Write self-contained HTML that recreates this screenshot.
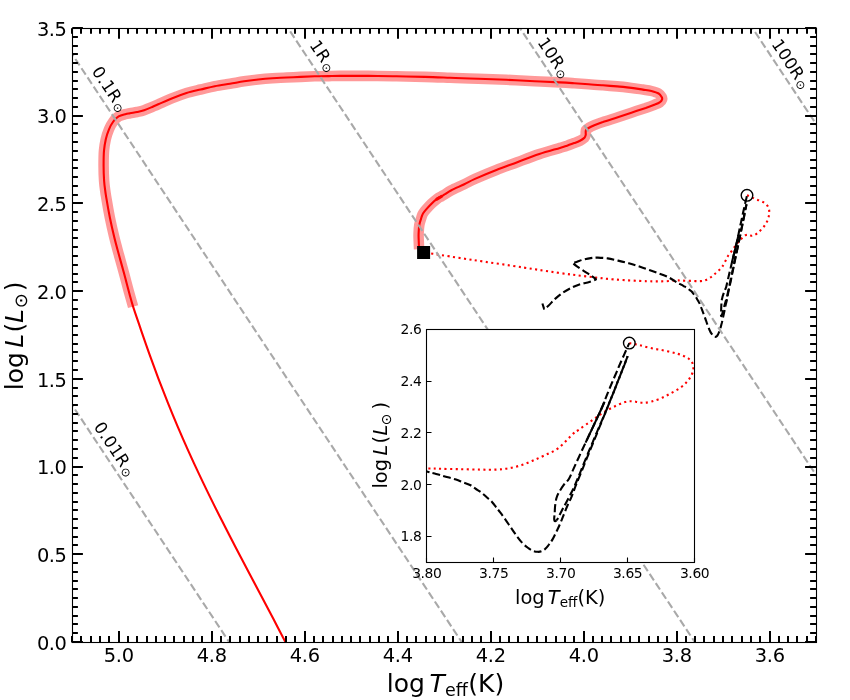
<!DOCTYPE html>
<html><head><meta charset="utf-8"><title>HR diagram</title>
<style>
html,body{margin:0;padding:0;background:#fff;}
body{width:850px;height:700px;overflow:hidden;}
svg{display:block;font-family:"DejaVu Sans","Liberation Sans",sans-serif;fill:#000;}
.it{font-style:italic;}
</style></head><body>
<svg width="850" height="700" viewBox="0 0 850 700">
<defs>
<clipPath id="cm"><rect x="72.3" y="28.005" width="743.9" height="613.9"/></clipPath>
<clipPath id="ci"><rect x="426.5" y="329.5" width="268.0" height="233.0"/></clipPath>
</defs>
<rect width="850" height="700" fill="#fff"/>
<g clip-path="url(#cm)" fill="none">
<path d="M419.1,249.2C419.0,247.7 418.8,242.5 418.7,240.0C418.6,237.5 418.5,236.5 418.6,234.0C418.7,231.5 418.8,227.8 419.3,225.0C419.8,222.2 420.9,219.2 421.5,217.3C422.1,215.4 422.2,214.8 423.0,213.5C423.8,212.2 424.6,211.2 426.0,209.6C427.4,208.0 429.6,205.5 431.5,203.7C433.4,201.9 435.7,199.9 437.3,198.7C438.9,197.5 439.9,197.2 441.2,196.5C442.5,195.8 443.3,195.2 445.0,194.2C446.7,193.1 448.2,191.9 451.4,190.2C454.6,188.5 460.4,186.1 464.3,184.2C468.2,182.3 469.6,181.3 475.0,178.9C480.4,176.5 489.2,172.8 496.4,170.0C503.5,167.2 510.8,164.7 517.9,162.0C525.0,159.3 532.3,156.4 539.3,154.1C546.3,151.8 555.4,149.3 560.0,147.9C564.6,146.5 564.7,146.5 567.1,145.7C569.5,144.9 572.1,143.9 574.3,143.1C576.4,142.3 578.3,141.6 580.0,140.7C581.7,139.8 583.3,138.8 584.3,137.9C585.2,137.0 585.5,135.8 585.7,135.0C585.9,134.2 585.7,133.7 585.7,132.9C585.8,132.1 585.5,130.8 586.0,130.0C586.5,129.2 587.2,128.8 588.6,128.0C590.0,127.1 591.9,126.2 594.3,125.2C596.7,124.2 599.1,123.2 602.9,122.0C606.7,120.7 612.4,119.0 617.1,117.5C621.9,115.9 626.6,114.2 631.4,112.7C636.2,111.1 641.9,109.2 645.7,108.0C649.5,106.7 651.9,105.8 654.3,104.8C656.7,103.9 658.7,103.2 660.0,102.2C661.3,101.3 661.8,100.2 662.1,99.3C662.4,98.4 662.3,98.1 661.7,97.1C661.1,96.1 660.3,94.5 658.6,93.5C656.9,92.5 654.0,91.7 651.4,91.0C648.8,90.3 646.2,90.1 642.9,89.6C639.6,89.1 635.7,88.4 631.4,87.9C627.1,87.4 621.9,86.8 617.1,86.4C612.4,86.0 607.6,85.7 602.9,85.3C598.1,84.9 593.4,84.5 588.6,84.2C583.8,83.9 579.1,83.5 574.3,83.2C569.5,82.9 566.6,82.7 560.0,82.4C553.4,82.1 543.6,81.7 534.7,81.2C525.8,80.8 515.9,80.3 506.5,79.8C497.1,79.4 487.6,79.0 478.2,78.7C468.8,78.3 458.9,77.9 450.0,77.7C441.1,77.4 433.6,77.1 424.7,76.9C415.8,76.7 405.9,76.4 396.5,76.2C387.1,76.0 377.6,76.0 368.2,75.9C358.8,75.9 346.6,75.9 340.0,75.9C333.4,75.9 333.0,76.0 328.8,76.1C324.6,76.2 319.4,76.2 314.7,76.3C310.0,76.5 305.3,76.7 300.6,76.9C295.9,77.1 291.2,77.3 286.5,77.5C281.8,77.7 277.1,78.0 272.4,78.3C267.7,78.6 262.9,79.0 258.2,79.5C253.5,80.0 248.8,80.6 244.1,81.3C239.4,82.0 234.9,82.9 230.0,83.7C225.1,84.5 219.6,85.2 214.7,86.2C209.8,87.2 205.3,88.4 200.6,89.5C195.9,90.6 191.2,91.5 186.5,93.0C181.8,94.5 177.1,96.3 172.4,98.2C167.7,100.1 161.7,102.8 158.2,104.3C154.7,105.8 153.5,106.4 151.2,107.4C148.8,108.4 146.4,109.4 144.1,110.2C141.8,111.0 139.4,111.5 137.1,112.0C134.8,112.5 132.0,112.8 130.0,113.2C128.0,113.6 127.2,113.7 125.3,114.2C123.4,114.7 120.6,115.2 118.6,116.4C116.6,117.6 114.9,119.3 113.3,121.5C111.7,123.7 110.2,126.4 109.0,129.3C107.8,132.2 106.6,135.6 105.8,139.2C105.0,142.8 104.4,146.2 104.0,150.6C103.6,155.0 103.6,160.7 103.6,165.7C103.6,170.7 103.8,176.4 104.1,180.8C104.4,185.2 105.0,189.0 105.4,192.0C105.8,195.0 105.8,194.6 106.5,198.9C107.2,203.2 108.6,211.4 109.9,217.7C111.2,224.0 112.6,230.3 114.1,236.6C115.6,242.9 117.4,249.2 119.1,255.5C120.8,261.8 122.6,268.0 124.3,274.3C126.0,280.6 127.8,287.8 129.3,293.2C130.8,298.6 132.5,304.4 133.1,306.6" stroke="#ff0000" stroke-opacity="0.4" stroke-width="10.6" stroke-linejoin="round"/>
<path d="M419.1,249.2C419.0,247.7 418.8,242.5 418.7,240.0C418.6,237.5 418.5,236.5 418.6,234.0C418.7,231.5 418.8,227.8 419.3,225.0C419.8,222.2 420.9,219.2 421.5,217.3C422.1,215.4 422.2,214.8 423.0,213.5C423.8,212.2 424.6,211.2 426.0,209.6C427.4,208.0 429.6,205.5 431.5,203.7C433.4,201.9 435.7,199.9 437.3,198.7C438.9,197.5 439.9,197.2 441.2,196.5C442.5,195.8 443.3,195.2 445.0,194.2C446.7,193.1 448.2,191.9 451.4,190.2C454.6,188.5 460.4,186.1 464.3,184.2C468.2,182.3 469.6,181.3 475.0,178.9C480.4,176.5 489.2,172.8 496.4,170.0C503.5,167.2 510.8,164.7 517.9,162.0C525.0,159.3 532.3,156.4 539.3,154.1C546.3,151.8 555.4,149.3 560.0,147.9C564.6,146.5 564.7,146.5 567.1,145.7C569.5,144.9 572.1,143.9 574.3,143.1C576.4,142.3 578.3,141.6 580.0,140.7C581.7,139.8 583.3,138.8 584.3,137.9C585.2,137.0 585.5,135.8 585.7,135.0C585.9,134.2 585.7,133.7 585.7,132.9C585.8,132.1 585.5,130.8 586.0,130.0C586.5,129.2 587.2,128.8 588.6,128.0C590.0,127.1 591.9,126.2 594.3,125.2C596.7,124.2 599.1,123.2 602.9,122.0C606.7,120.7 612.4,119.0 617.1,117.5C621.9,115.9 626.6,114.2 631.4,112.7C636.2,111.1 641.9,109.2 645.7,108.0C649.5,106.7 651.9,105.8 654.3,104.8C656.7,103.9 658.7,103.2 660.0,102.2C661.3,101.3 661.8,100.2 662.1,99.3C662.4,98.4 662.3,98.1 661.7,97.1C661.1,96.1 660.3,94.5 658.6,93.5C656.9,92.5 654.0,91.7 651.4,91.0C648.8,90.3 646.2,90.1 642.9,89.6C639.6,89.1 635.7,88.4 631.4,87.9C627.1,87.4 621.9,86.8 617.1,86.4C612.4,86.0 607.6,85.7 602.9,85.3C598.1,84.9 593.4,84.5 588.6,84.2C583.8,83.9 579.1,83.5 574.3,83.2C569.5,82.9 566.6,82.7 560.0,82.4C553.4,82.1 543.6,81.7 534.7,81.2C525.8,80.8 515.9,80.3 506.5,79.8C497.1,79.4 487.6,79.0 478.2,78.7C468.8,78.3 458.9,77.9 450.0,77.7C441.1,77.4 433.6,77.1 424.7,76.9C415.8,76.7 405.9,76.4 396.5,76.2C387.1,76.0 377.6,76.0 368.2,75.9C358.8,75.9 346.6,75.9 340.0,75.9C333.4,75.9 333.0,76.0 328.8,76.1C324.6,76.2 319.4,76.2 314.7,76.3C310.0,76.5 305.3,76.7 300.6,76.9C295.9,77.1 291.2,77.3 286.5,77.5C281.8,77.7 277.1,78.0 272.4,78.3C267.7,78.6 262.9,79.0 258.2,79.5C253.5,80.0 248.8,80.6 244.1,81.3C239.4,82.0 234.9,82.9 230.0,83.7C225.1,84.5 219.6,85.2 214.7,86.2C209.8,87.2 205.3,88.4 200.6,89.5C195.9,90.6 191.2,91.5 186.5,93.0C181.8,94.5 177.1,96.3 172.4,98.2C167.7,100.1 161.7,102.8 158.2,104.3C154.7,105.8 153.5,106.4 151.2,107.4C148.8,108.4 146.4,109.4 144.1,110.2C141.8,111.0 139.4,111.5 137.1,112.0C134.8,112.5 132.0,112.8 130.0,113.2C128.0,113.6 127.2,113.7 125.3,114.2C123.4,114.7 120.6,115.2 118.6,116.4C116.6,117.6 114.9,119.3 113.3,121.5C111.7,123.7 110.2,126.4 109.0,129.3C107.8,132.2 106.6,135.6 105.8,139.2C105.0,142.8 104.4,146.2 104.0,150.6C103.6,155.0 103.6,160.7 103.6,165.7C103.6,170.7 103.8,176.4 104.1,180.8C104.4,185.2 105.0,189.0 105.4,192.0C105.8,195.0 105.8,194.6 106.5,198.9C107.2,203.2 108.6,211.4 109.9,217.7C111.2,224.0 112.6,230.3 114.1,236.6C115.6,242.9 117.4,249.2 119.1,255.5C120.8,261.8 122.6,268.0 124.3,274.3C126.0,280.6 127.8,287.8 129.3,293.2C130.8,298.6 131.1,300.4 133.1,306.6C135.1,312.8 138.5,322.6 141.2,330.6C144.0,338.6 146.7,346.6 149.6,354.6C152.5,362.6 155.4,370.6 158.4,378.6C161.5,386.6 164.6,394.6 167.8,402.6C171.0,410.6 174.3,418.6 177.7,426.6C181.1,434.6 184.6,442.6 188.2,450.6C191.8,458.6 195.5,466.6 199.3,474.6C203.1,482.6 206.9,490.6 210.9,498.6C214.8,506.6 218.8,514.6 222.9,522.6C226.9,530.6 231.1,538.6 235.2,546.6C239.4,554.6 243.6,562.6 247.8,570.6C252.0,578.6 256.3,586.6 260.5,594.6C264.8,602.6 269.0,610.6 273.2,618.6C277.4,626.6 283.6,638.6 285.7,642.6" stroke="#ff0000" stroke-width="2.1" stroke-linejoin="round"/>
<path d="M436.9,199.1L441.4,196.5" stroke="#ff0000" stroke-width="3.1" stroke-linecap="round"/>
<path d="M747.0,195.3C747.6,195.5 749.2,196.1 750.5,196.6C751.8,197.2 753.4,198.2 754.8,198.8C756.3,199.4 757.7,199.8 759.2,200.4C760.6,201.0 762.3,201.7 763.6,202.4C764.8,203.2 766.0,203.9 766.8,204.9C767.7,205.8 768.3,206.8 768.7,208.0C769.1,209.3 769.3,210.9 769.3,212.3C769.3,213.7 769.1,215.1 768.7,216.6C768.4,218.1 767.8,219.9 767.1,221.4C766.4,222.9 765.6,224.3 764.6,225.7C763.7,227.0 762.5,228.2 761.4,229.4C760.3,230.6 759.2,231.7 758.1,232.6C757.0,233.5 755.8,234.4 754.8,234.9C753.8,235.4 752.9,235.7 752.1,235.8C751.3,235.8 750.6,235.4 749.9,235.2C749.2,235.0 748.5,234.7 747.7,234.7C747.0,234.7 746.4,234.8 745.5,235.2C744.7,235.7 743.7,236.6 742.8,237.4C741.9,238.2 741.0,239.1 740.1,240.0C739.2,241.0 738.3,242.1 737.3,243.2C736.4,244.4 735.5,245.7 734.6,247.0C733.7,248.2 732.8,249.4 731.9,250.7C731.0,251.9 729.9,253.4 729.2,254.4C728.5,255.4 728.7,254.7 727.5,256.8C726.4,258.8 724.0,264.2 722.3,266.7C720.6,269.2 718.9,270.2 717.4,271.6C715.9,273.0 714.6,274.1 713.2,275.2C711.9,276.4 710.5,277.5 709.1,278.4C707.7,279.2 706.3,279.8 704.9,280.3C703.5,280.7 702.4,280.9 700.7,281.1C699.1,281.2 697.3,281.1 695.2,281.1C693.1,281.0 690.6,280.9 688.2,280.8C685.9,280.7 683.2,280.6 681.3,280.5C679.4,280.5 679.7,280.3 676.8,280.4C673.9,280.5 668.9,281.2 664.0,281.3C659.1,281.4 655.4,281.5 647.2,281.2C639.0,280.9 624.8,280.3 614.7,279.5C604.6,278.7 595.9,277.5 586.5,276.4C577.1,275.3 568.7,274.3 558.2,272.8C547.7,271.3 537.9,269.7 523.5,267.5C509.1,265.3 486.9,262.1 471.8,259.8C456.7,257.5 439.8,254.9 432.9,253.8C426.0,252.7 430.9,253.4 430.5,253.3" stroke="#ff0000" stroke-width="2.1" stroke-dasharray="2.08 3.44"/>
<path d="M542.4,303.5L544.1,308.9L544.1,308.9C544.8,308.4 546.5,307.4 548.4,305.7C550.3,304.0 553.0,300.7 555.4,298.6C557.8,296.5 559.9,294.7 562.5,292.9C565.1,291.1 568.1,289.4 570.9,288.0C573.7,286.6 576.3,285.5 579.4,284.5C582.5,283.5 586.5,282.7 589.3,281.9C592.0,281.1 594.8,280.0 595.9,279.6L595.9,279.0C595.0,278.4 592.8,276.7 590.7,275.3C588.7,273.9 586.0,272.3 583.6,270.8C581.2,269.3 578.5,267.4 576.6,266.1C574.7,264.8 573.1,263.4 572.4,262.9L572.4,262.9C573.1,262.7 574.7,262.5 576.6,261.9C578.5,261.3 581.2,260.1 583.6,259.5C586.0,258.9 588.3,258.4 590.7,258.1C593.1,257.8 595.0,257.6 597.8,257.6C600.6,257.7 604.3,257.9 607.6,258.4C610.9,258.9 614.0,259.7 617.5,260.5C621.0,261.3 625.0,262.2 628.8,263.3C632.6,264.4 635.9,265.4 640.1,266.8C644.4,268.2 649.6,270.1 654.3,271.8C658.9,273.5 664.3,275.2 668.0,277.0C671.7,278.8 674.9,281.3 676.8,282.4C678.6,283.5 678.3,283.2 679.0,283.6C679.8,284.0 680.5,284.3 681.3,284.7C682.1,285.2 683.2,285.8 684.1,286.3C685.0,286.8 686.0,287.3 686.9,287.9C687.7,288.4 688.5,289.1 689.3,289.7C690.1,290.3 691.0,290.8 691.7,291.5C692.5,292.3 693.1,293.3 693.8,294.2C694.5,295.1 695.2,296.0 695.9,296.9C696.5,297.9 697.0,299.0 697.6,300.0C698.2,301.0 698.8,302.0 699.4,303.0C699.9,304.1 700.3,305.3 700.7,306.5C701.2,307.7 701.6,308.5 702.1,310.0C702.7,311.4 703.4,313.3 704.1,315.1C704.7,316.9 705.4,319.0 706.1,320.8C706.7,322.7 707.3,324.5 708.0,326.2C708.7,327.9 709.3,329.7 710.0,331.0C710.6,332.4 711.3,333.4 711.9,334.2C712.5,335.1 713.0,335.7 713.6,336.1C714.1,336.6 714.7,336.8 715.2,336.8C715.7,336.9 716.1,336.8 716.5,336.5C717.0,336.1 717.4,335.6 717.8,334.8C718.3,334.1 718.7,333.1 719.1,332.0C719.5,330.9 720.0,329.7 720.4,328.2C720.9,326.7 721.3,324.8 721.8,323.0C722.2,321.3 722.6,319.6 723.0,317.6C723.5,315.7 723.9,313.4 724.4,311.2C724.8,309.1 725.3,306.7 725.7,304.9C726.1,303.0 726.5,301.7 726.9,300.1C727.2,298.6 727.4,297.0 727.7,295.5C728.0,294.0 728.3,292.3 728.6,290.9C728.9,289.5 729.0,289.1 729.4,287.2C729.8,285.4 730.5,282.3 731.0,279.8C731.5,277.3 732.0,274.8 732.5,272.3C733.0,269.8 733.6,267.3 734.1,264.8C734.6,262.3 735.1,259.8 735.6,257.3C736.1,254.8 736.7,252.4 737.2,249.9C737.7,247.4 738.2,244.9 738.7,242.4C739.2,239.9 739.8,237.4 740.3,234.9C740.8,232.4 741.4,229.6 741.8,227.4C742.3,225.2 742.6,223.6 743.0,221.6C743.4,219.7 743.8,217.7 744.2,215.8C744.5,213.9 744.9,211.9 745.3,210.0C745.7,208.0 746.3,205.1 746.5,204.2" stroke="#000" stroke-width="2.1" stroke-dasharray="7.7 3.33" stroke-dashoffset="2" stroke-linejoin="round"/>
<path d="M746.5,204.2C746.3,205.1 745.7,208.0 745.3,210.0C744.9,211.9 744.5,213.9 744.2,215.8C743.8,217.7 743.4,219.7 743.0,221.6C742.6,223.6 742.3,225.2 741.8,227.4C741.4,229.6 740.8,232.4 740.3,234.9C739.8,237.4 739.3,239.9 738.7,242.4C738.2,244.8 737.6,247.3 737.1,249.8C736.5,252.3 735.9,255.2 735.4,257.3C735.0,259.4 734.7,260.7 734.3,262.4C734.0,264.0 733.6,265.7 733.3,267.4C732.9,269.1 732.6,270.4 732.2,272.5C731.7,274.6 731.1,277.5 730.6,280.0C730.1,282.5 729.6,285.0 729.0,287.4C728.5,289.9 728.1,292.2 727.5,294.4C727.0,296.7 726.4,298.8 725.8,300.9C725.2,303.1 724.5,305.4 724.0,307.5C723.4,309.6 722.8,312.0 722.4,313.3C722.1,314.7 722.0,315.0 721.8,315.4C721.6,315.9 721.4,316.2 721.3,316.1C721.2,316.1 721.0,315.7 721.0,315.2C720.9,314.8 721.0,313.9 721.0,313.2C721.0,312.5 721.1,312.2 721.1,311.0C721.2,309.7 721.2,307.5 721.3,305.8C721.4,304.0 721.5,302.1 721.7,300.5C721.9,299.0 722.2,298.1 722.6,296.6C723.0,295.1 723.6,293.3 724.2,291.8C724.7,290.2 725.5,289.1 726.1,287.2C726.7,285.4 727.1,282.8 727.7,280.6C728.2,278.3 728.7,276.1 729.2,273.9C729.7,271.7 730.2,269.5 730.8,267.2C731.3,265.0 731.9,262.6 732.5,260.3C733.0,257.9 733.6,255.5 734.2,253.3C734.7,251.0 735.2,248.9 735.7,246.7C736.2,244.5 736.8,242.5 737.3,240.2C737.8,237.9 738.3,235.3 738.8,232.8C739.3,230.3 739.9,227.5 740.3,225.4C740.8,223.3 741.1,221.9 741.5,220.1C741.9,218.3 742.3,216.5 742.6,214.8C743.0,213.0 743.3,211.5 743.8,209.5C744.3,207.4 744.9,204.7 745.4,202.4C746.0,200.0 746.8,196.5 747.0,195.3" stroke="#000" stroke-width="2.1" stroke-dasharray="7.7 3.33" stroke-dashoffset="1.65" stroke-linejoin="round"/>
<path d="M731.9,262.8C732.2,261.2 733.2,257.0 734.2,253.3C735.1,249.5 736.6,243.2 737.3,240.2C738.0,237.2 738.3,235.9 738.5,235.1" stroke="#000" stroke-width="2.1"/>
<g stroke="#a9a9a9" stroke-width="2.1" stroke-dasharray="7.7 3.33"><path d="M71.6,404.3L838.7,1561.9" stroke-dashoffset="4.8"/><path d="M71.7,53.5L838.8,1211.1" stroke-dashoffset="4.4"/><path d="M287.9,28.0L839.4,860.3" stroke-dashoffset="6.9"/><path d="M519.9,28.0L838.9,509.5" stroke-dashoffset="4.9"/><path d="M752.4,28.0L839.0,158.7" stroke-dashoffset="6.2"/></g>
<rect x="417.1" y="246.0" width="13" height="13" fill="#000"/>
<circle cx="747.0" cy="195.3" r="5.8" stroke="#000" stroke-width="1.4"/>
</g>
<g font-size="16.67" letter-spacing="0.3">
<text transform="translate(91.3,71.3) rotate(56.4)">0.1R<tspan font-size="11.9" dy="2.1" dx="0.9">⊙</tspan></text>
<text transform="translate(93.3,426.7) rotate(56.4)">0.01R<tspan font-size="11.9" dy="2.1" dx="0.9">⊙</tspan></text>
<text transform="translate(309.1,45) rotate(56.4)">1R<tspan font-size="11.9" dy="2.1" dx="0.9">⊙</tspan></text>
<text transform="translate(537.1,42.3) rotate(56.4)">10R<tspan font-size="11.9" dy="2.1" dx="0.9">⊙</tspan></text>
<text transform="translate(771,44) rotate(56.4)">100R<tspan font-size="11.9" dy="2.1" dx="0.9">⊙</tspan></text>
</g>
<path d="M119,642.5V631.0 M119,28.2V38.7M212,642.5V631.0 M212,28.2V38.7M305,642.5V631.0 M305,28.2V38.7M398,642.5V631.0 M398,28.2V38.7M491,642.5V631.0 M491,28.2V38.7M584,642.5V631.0 M584,28.2V38.7M677,642.5V631.0 M677,28.2V38.7M770,642.5V631.0 M770,28.2V38.7M72.3,642H82.9 M816.5,642H805.1M72.3,554H82.9 M816.5,554H805.1M72.3,467H82.9 M816.5,467H805.1M72.3,379H82.9 M816.5,379H805.1M72.3,291H82.9 M816.5,291H805.1M72.3,203H82.9 M816.5,203H805.1M72.3,116H82.9 M816.5,116H805.1M72.3,28H82.9 M816.5,28H805.1" stroke="#000" stroke-width="2" fill="none"/>
<path d="M72,642.5V636.1 M72,28.2V33.8M81,642.5V636.1 M81,28.2V33.8M91,642.5V636.1 M91,28.2V33.8M100,642.5V636.1 M100,28.2V33.8M109,642.5V636.1 M109,28.2V33.8M128,642.5V636.1 M128,28.2V33.8M137,642.5V636.1 M137,28.2V33.8M147,642.5V636.1 M147,28.2V33.8M156,642.5V636.1 M156,28.2V33.8M165,642.5V636.1 M165,28.2V33.8M174,642.5V636.1 M174,28.2V33.8M184,642.5V636.1 M184,28.2V33.8M193,642.5V636.1 M193,28.2V33.8M202,642.5V636.1 M202,28.2V33.8M221,642.5V636.1 M221,28.2V33.8M230,642.5V636.1 M230,28.2V33.8M240,642.5V636.1 M240,28.2V33.8M249,642.5V636.1 M249,28.2V33.8M258,642.5V636.1 M258,28.2V33.8M267,642.5V636.1 M267,28.2V33.8M277,642.5V636.1 M277,28.2V33.8M286,642.5V636.1 M286,28.2V33.8M295,642.5V636.1 M295,28.2V33.8M314,642.5V636.1 M314,28.2V33.8M323,642.5V636.1 M323,28.2V33.8M333,642.5V636.1 M333,28.2V33.8M342,642.5V636.1 M342,28.2V33.8M351,642.5V636.1 M351,28.2V33.8M360,642.5V636.1 M360,28.2V33.8M370,642.5V636.1 M370,28.2V33.8M379,642.5V636.1 M379,28.2V33.8M388,642.5V636.1 M388,28.2V33.8M407,642.5V636.1 M407,28.2V33.8M416,642.5V636.1 M416,28.2V33.8M426,642.5V636.1 M426,28.2V33.8M435,642.5V636.1 M435,28.2V33.8M444,642.5V636.1 M444,28.2V33.8M453,642.5V636.1 M453,28.2V33.8M463,642.5V636.1 M463,28.2V33.8M472,642.5V636.1 M472,28.2V33.8M481,642.5V636.1 M481,28.2V33.8M500,642.5V636.1 M500,28.2V33.8M509,642.5V636.1 M509,28.2V33.8M518,642.5V636.1 M518,28.2V33.8M528,642.5V636.1 M528,28.2V33.8M537,642.5V636.1 M537,28.2V33.8M546,642.5V636.1 M546,28.2V33.8M556,642.5V636.1 M556,28.2V33.8M565,642.5V636.1 M565,28.2V33.8M574,642.5V636.1 M574,28.2V33.8M593,642.5V636.1 M593,28.2V33.8M602,642.5V636.1 M602,28.2V33.8M611,642.5V636.1 M611,28.2V33.8M621,642.5V636.1 M621,28.2V33.8M630,642.5V636.1 M630,28.2V33.8M639,642.5V636.1 M639,28.2V33.8M649,642.5V636.1 M649,28.2V33.8M658,642.5V636.1 M658,28.2V33.8M667,642.5V636.1 M667,28.2V33.8M686,642.5V636.1 M686,28.2V33.8M695,642.5V636.1 M695,28.2V33.8M704,642.5V636.1 M704,28.2V33.8M714,642.5V636.1 M714,28.2V33.8M723,642.5V636.1 M723,28.2V33.8M732,642.5V636.1 M732,28.2V33.8M742,642.5V636.1 M742,28.2V33.8M751,642.5V636.1 M751,28.2V33.8M760,642.5V636.1 M760,28.2V33.8M779,642.5V636.1 M779,28.2V33.8M788,642.5V636.1 M788,28.2V33.8M797,642.5V636.1 M797,28.2V33.8M807,642.5V636.1 M807,28.2V33.8M816,642.5V636.1 M816,28.2V33.8M72.3,633H77.9 M816.5,633H810.1M72.3,624H77.9 M816.5,624H810.1M72.3,616H77.9 M816.5,616H810.1M72.3,607H77.9 M816.5,607H810.1M72.3,598H77.9 M816.5,598H810.1M72.3,589H77.9 M816.5,589H810.1M72.3,581H77.9 M816.5,581H810.1M72.3,572H77.9 M816.5,572H810.1M72.3,563H77.9 M816.5,563H810.1M72.3,545H77.9 M816.5,545H810.1M72.3,537H77.9 M816.5,537H810.1M72.3,528H77.9 M816.5,528H810.1M72.3,519H77.9 M816.5,519H810.1M72.3,510H77.9 M816.5,510H810.1M72.3,502H77.9 M816.5,502H810.1M72.3,493H77.9 M816.5,493H810.1M72.3,484H77.9 M816.5,484H810.1M72.3,475H77.9 M816.5,475H810.1M72.3,458H77.9 M816.5,458H810.1M72.3,449H77.9 M816.5,449H810.1M72.3,440H77.9 M816.5,440H810.1M72.3,431H77.9 M816.5,431H810.1M72.3,423H77.9 M816.5,423H810.1M72.3,414H77.9 M816.5,414H810.1M72.3,405H77.9 M816.5,405H810.1M72.3,396H77.9 M816.5,396H810.1M72.3,388H77.9 M816.5,388H810.1M72.3,370H77.9 M816.5,370H810.1M72.3,361H77.9 M816.5,361H810.1M72.3,352H77.9 M816.5,352H810.1M72.3,344H77.9 M816.5,344H810.1M72.3,335H77.9 M816.5,335H810.1M72.3,326H77.9 M816.5,326H810.1M72.3,317H77.9 M816.5,317H810.1M72.3,309H77.9 M816.5,309H810.1M72.3,300H77.9 M816.5,300H810.1M72.3,282H77.9 M816.5,282H810.1M72.3,274H77.9 M816.5,274H810.1M72.3,265H77.9 M816.5,265H810.1M72.3,256H77.9 M816.5,256H810.1M72.3,247H77.9 M816.5,247H810.1M72.3,238H77.9 M816.5,238H810.1M72.3,230H77.9 M816.5,230H810.1M72.3,221H77.9 M816.5,221H810.1M72.3,212H77.9 M816.5,212H810.1M72.3,195H77.9 M816.5,195H810.1M72.3,186H77.9 M816.5,186H810.1M72.3,177H77.9 M816.5,177H810.1M72.3,168H77.9 M816.5,168H810.1M72.3,160H77.9 M816.5,160H810.1M72.3,151H77.9 M816.5,151H810.1M72.3,142H77.9 M816.5,142H810.1M72.3,133H77.9 M816.5,133H810.1M72.3,124H77.9 M816.5,124H810.1M72.3,107H77.9 M816.5,107H810.1M72.3,98H77.9 M816.5,98H810.1M72.3,89H77.9 M816.5,89H810.1M72.3,81H77.9 M816.5,81H810.1M72.3,72H77.9 M816.5,72H810.1M72.3,63H77.9 M816.5,63H810.1M72.3,54H77.9 M816.5,54H810.1M72.3,46H77.9 M816.5,46H810.1M72.3,37H77.9 M816.5,37H810.1" stroke="#000" stroke-width="2" fill="none"/>
<rect x="72.5" y="28.5" width="744.0" height="614.0" fill="none" stroke="#000" stroke-width="1.1"/>
<g font-size="19.44" text-anchor="middle" letter-spacing="-0.3"><text x="118.8" y="662.2">5.0</text><text x="211.8" y="662.2">4.8</text><text x="304.8" y="662.2">4.6</text><text x="397.8" y="662.2">4.4</text><text x="490.7" y="662.2">4.2</text><text x="583.7" y="662.2">4.0</text><text x="676.7" y="662.2">3.8</text><text x="769.7" y="662.2">3.6</text></g>
<g font-size="19.44" text-anchor="end" letter-spacing="-0.5"><text x="66.3" y="649.6">0.0</text><text x="66.3" y="561.9">0.5</text><text x="66.3" y="474.2">1.0</text><text x="66.3" y="386.5">1.5</text><text x="66.3" y="298.8">2.0</text><text x="66.3" y="211.1">2.5</text><text x="66.3" y="123.4">3.0</text><text x="66.3" y="35.7">3.5</text></g>
<text font-size="25" x="386.8" y="692">log<tspan dx="4.5" class="it">T</tspan><tspan font-size="17.5" dy="4.2" dx="0.4">eff</tspan><tspan dy="-4.2" dx="0.4">(K)</tspan></text>
<text font-size="25" transform="translate(22.8,390.3) rotate(-90)">log<tspan dx="4.5" class="it">L</tspan><tspan dx="1.3">(</tspan><tspan dx="-0.3" class="it">L</tspan><tspan font-size="18" dy="4.6" dx="0.9">⊙</tspan><tspan dy="-4.6" dx="1.9">)</tspan></text>
<rect x="426.5" y="329.5" width="268.0" height="233.0" fill="#fff"/>
<g clip-path="url(#ci)" fill="none">
<path d="M629.3,343.1C630.9,343.4 635.5,344.2 639.2,345.1C642.9,346.0 647.5,347.4 651.7,348.3C655.9,349.2 660.1,349.7 664.3,350.6C668.5,351.5 673.2,352.5 676.9,353.6C680.6,354.7 683.8,355.8 686.3,357.2C688.8,358.6 690.6,360.1 691.8,361.9C693.0,363.7 693.4,366.1 693.4,368.2C693.4,370.3 692.8,372.3 691.8,374.5C690.8,376.7 689.1,379.4 687.1,381.6C685.1,383.8 682.8,385.9 680.0,387.9C677.2,389.9 673.7,391.7 670.6,393.4C667.5,395.1 664.4,396.8 661.2,398.1C658.1,399.5 654.6,400.7 651.7,401.5C648.8,402.3 646.2,402.7 643.9,402.8C641.5,402.9 639.7,402.3 637.6,402.0C635.5,401.7 633.4,401.2 631.3,401.2C629.2,401.2 627.4,401.3 625.0,402.0C622.6,402.7 619.8,404.0 617.2,405.2C614.6,406.4 611.9,407.7 609.3,409.1C606.7,410.5 604.0,412.1 601.4,413.8C598.8,415.5 596.2,417.5 593.6,419.3C591.0,421.1 588.3,423.0 585.7,424.8C583.1,426.6 580.0,428.8 577.9,430.3C575.8,431.8 576.4,430.8 573.1,433.8C569.8,436.8 562.9,444.8 558.0,448.4C553.1,452.0 548.3,453.5 544.0,455.6C539.7,457.7 536.0,459.3 532.0,461.0C528.0,462.7 524.0,464.4 520.0,465.6C516.0,466.8 512.0,467.7 508.0,468.4C504.0,469.1 500.7,469.4 496.0,469.6C491.3,469.8 486.0,469.7 480.0,469.6C474.0,469.5 466.7,469.3 460.0,469.2C453.3,469.1 445.5,468.9 440.0,468.8C434.5,468.7 435.3,468.4 427.0,468.6C418.7,468.8 404.4,469.7 390.2,469.9C376.0,470.1 365.5,470.2 341.8,469.8C318.1,469.4 263.8,467.7 248.2,467.3" stroke="#ff0000" stroke-width="2.1" stroke-dasharray="2.08 3.44"/>
<g stroke="#000" stroke-width="2.1" stroke-dasharray="7.7 3.33" stroke-linejoin="round"><path d="M321.3,448.6C328.2,449.8 348.8,453.4 362.2,455.9C375.6,458.4 390.9,461.0 401.7,463.6C412.5,466.2 421.7,470.0 427.0,471.6C432.3,473.2 431.3,472.7 433.5,473.3C435.7,473.9 437.6,474.3 440.0,475.0C442.4,475.7 445.3,476.5 448.0,477.3C450.7,478.1 453.5,478.8 456.0,479.6C458.5,480.4 460.7,481.4 463.0,482.3C465.3,483.2 467.8,483.9 470.0,485.0C472.2,486.1 474.0,487.7 476.0,489.0C478.0,490.3 480.2,491.6 482.0,493.0C483.8,494.4 485.3,496.0 487.0,497.5C488.7,499.0 490.5,500.4 492.0,502.0C493.5,503.6 494.7,505.4 496.0,507.1C497.3,508.8 498.4,510.1 500.0,512.2C501.6,514.3 503.7,517.1 505.6,519.8C507.5,522.5 509.4,525.5 511.3,528.2C513.2,530.9 515.0,533.7 516.9,536.2C518.8,538.7 520.7,541.3 522.6,543.3C524.5,545.3 526.5,546.8 528.2,548.0C529.9,549.2 531.3,550.2 532.9,550.8C534.5,551.4 536.2,551.7 537.6,551.8C539.0,551.9 540.1,551.8 541.4,551.3C542.7,550.8 544.0,550.0 545.2,548.9C546.5,547.8 547.6,546.3 548.9,544.7C550.1,543.1 551.4,541.3 552.7,539.1C554.0,536.9 555.2,534.1 556.5,531.5C557.8,528.9 559.0,526.4 560.2,523.5C561.5,520.6 562.7,517.2 564.0,514.1C565.3,511.0 566.6,507.4 567.8,504.7C569.0,502.0 570.2,500.0 571.2,497.7C572.2,495.4 572.9,493.2 573.8,490.9C574.6,488.6 575.5,486.1 576.3,484.1C577.1,482.1 577.5,481.4 578.6,478.7C579.7,476.0 581.6,471.4 583.1,467.7C584.5,464.0 586.0,460.3 587.5,456.6C589.0,453.0 590.5,449.3 592.0,445.6C593.5,441.9 595.0,438.3 596.5,434.6C597.9,430.9 599.4,427.2 600.9,423.6C602.4,419.9 603.9,416.2 605.4,412.6C606.9,408.9 608.4,405.2 609.8,401.5C611.3,397.8 613.0,393.8 614.3,390.5C615.6,387.2 616.5,384.8 617.6,381.9C618.8,379.1 619.9,376.2 621.0,373.4C622.1,370.5 623.2,367.6 624.4,364.8C625.5,361.9 627.1,357.6 627.7,356.2" stroke-dashoffset="7.18"/><path d="M627.7,356.2C627.1,357.6 625.5,361.9 624.4,364.8C623.2,367.6 622.1,370.5 621.0,373.4C619.9,376.2 618.8,379.1 617.6,381.9C616.5,384.8 615.6,387.2 614.3,390.5C613.0,393.8 611.3,397.8 609.8,401.5C608.4,405.2 606.9,408.8 605.4,412.5C603.9,416.2 602.2,419.8 600.6,423.5C599.1,427.2 597.2,431.4 595.9,434.5C594.6,437.6 593.8,439.5 592.8,442.0C591.7,444.5 590.7,447.0 589.6,449.5C588.6,452.0 587.8,453.9 586.5,457.0C585.2,460.1 583.5,464.3 582.0,468.0C580.5,471.7 579.0,475.4 577.5,479.0C576.0,482.6 574.7,486.0 573.1,489.3C571.5,492.6 569.8,495.7 568.1,498.9C566.4,502.1 564.5,505.6 562.9,508.6C561.3,511.7 559.5,515.2 558.5,517.2C557.5,519.2 556.9,519.8 556.6,520.3" stroke-dashoffset="0.41"/><path d="M556.6,520.3C556.4,520.5 555.6,521.3 555.2,521.3C554.8,521.2 554.4,520.7 554.3,520.0C554.1,519.3 554.2,518.0 554.3,517.0C554.4,516.0 554.6,515.5 554.7,513.7C554.8,511.9 554.8,508.6 555.1,506.0C555.4,503.4 555.8,500.6 556.4,498.3C557.0,496.1 557.7,494.6 558.9,492.5C560.1,490.4 561.7,487.7 563.4,485.4C565.1,483.1 567.3,481.5 569.0,478.7C570.7,475.9 572.0,472.1 573.5,468.9C575.0,465.6 576.5,462.3 578.0,459.0C579.5,455.8 580.9,452.6 582.5,449.2C584.1,445.8 585.7,442.3 587.4,438.9C589.0,435.5 590.6,431.9 592.2,428.6C593.8,425.3 595.2,422.2 596.7,419.0C598.2,415.7 599.7,412.7 601.2,409.3C602.7,405.9 604.1,402.0 605.6,398.4C607.1,394.8 608.7,390.6 610.0,387.5C611.3,384.4 612.2,382.3 613.3,379.7C614.4,377.1 615.6,374.4 616.7,371.8C617.8,369.2 618.7,367.0 620.0,364.0C621.3,361.0 623.1,357.0 624.6,353.6C626.2,350.1 628.5,344.8 629.3,343.1" stroke-dasharray="7.914 3.422"/></g>
<path d="M585.6,442.6C586.7,440.3 589.6,434.2 592.2,428.6C594.8,423.1 599.1,413.8 601.2,409.3C603.3,404.8 604.0,403.1 604.6,401.8" stroke="#000" stroke-width="2.1"/>
<circle cx="629.3" cy="343.1" r="5.8" stroke="#000" stroke-width="1.4"/>
</g>
<path d="M426.5,562.3v-4.9M493.5,562.3v-4.9M560.5,562.3v-4.9M627.5,562.3v-4.9M694.5,562.3v-4.9M426.6,536.5h4.9M426.6,484.5h4.9M426.6,432.5h4.9M426.6,381.5h4.9M426.6,329.5h4.9" stroke="#000" stroke-width="1.1" fill="none"/>
<rect x="426.5" y="329.5" width="268.0" height="233.0" fill="none" stroke="#000" stroke-width="1.1"/>
<g font-size="13.89" text-anchor="middle" letter-spacing="-0.4"><text x="426.8" y="578">3.80</text><text x="493.7" y="578">3.75</text><text x="560.7" y="578">3.70</text><text x="627.6" y="578">3.65</text><text x="694.6" y="578">3.60</text></g>
<g font-size="13.89" text-anchor="end" letter-spacing="-0.3"><text x="421.6" y="541.2">1.8</text><text x="421.6" y="489.5">2.0</text><text x="421.6" y="437.8">2.2</text><text x="421.6" y="386.0">2.4</text><text x="421.6" y="334.3">2.6</text></g>
<text font-size="19.44" x="515" y="604">log<tspan dx="3.2" class="it">T</tspan><tspan font-size="13.6" dy="3.3">eff</tspan><tspan dy="-3.3">(K)</tspan></text>
<text font-size="19.44" transform="translate(387,488.6) rotate(-90)">log<tspan dx="3.5" class="it">L</tspan><tspan dx="1.0">(</tspan><tspan dx="0.5" class="it">L</tspan><tspan font-size="14" dy="3.6" dx="-0.5">⊙</tspan><tspan dy="-3.6" dx="4.0">)</tspan></text>
</svg>
</body></html>
